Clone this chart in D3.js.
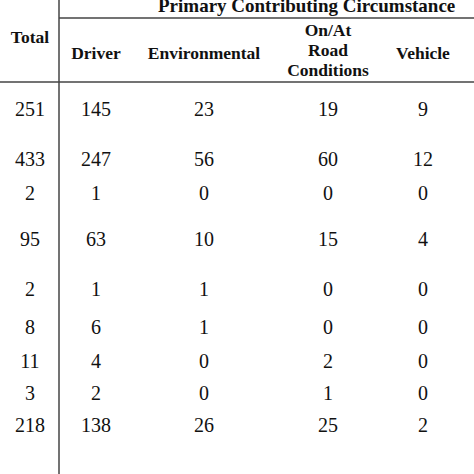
<!DOCTYPE html><html><head><meta charset="utf-8"><script src="https://d3js.org/d3.v7.min.js"></script>
<style>body{margin:0;background:#fff}</style></head><body><svg width="474" height="474"></svg><script>
const columns=["Total","Driver","Environmental","On/At\nRoad\nConditions","Vehicle"];
const total=[251,433,2,95,2,8,11,3,218];
const driver=[145,247,1,63,1,6,4,2,138];
const environmental=[23,56,0,10,1,1,0,0,26];
const road=[19,60,0,15,0,0,2,1,25];
const vehicle=[9,12,0,4,0,0,0,0,2];
const rowY=[109,159,193,239,289,327,361,393,425];
const colX=[30,96,204,328,423];
const svg=d3.select("svg"),f="'Liberation Serif','Times New Roman',serif";
const g=svg.append("g").attr("font-family",f).attr("fill","#111");
svg.append("line").attr("x1",59).attr("x2",59).attr("y1",0).attr("y2",474).attr("stroke","#444").attr("stroke-width",1.5);
svg.append("line").attr("x1",59).attr("x2",474).attr("y1",18).attr("y2",18).attr("stroke","#444").attr("stroke-width",1.5);
svg.append("line").attr("x1",0).attr("x2",474).attr("y1",82).attr("y2",82).attr("stroke","#444").attr("stroke-width",1.5);
g.append("text").attr("x",158).attr("y",12).attr("font-weight","bold").attr("font-size",19).text("Primary Contributing Circumstance");
columns.forEach((c,i)=>{const lines=c.split("\n");const y0=i==0?43:(lines.length>1?36:59);
lines.forEach((l,j)=>g.append("text").attr("x",colX[i]).attr("y",y0+j*20).attr("text-anchor","middle").attr("font-weight","bold").attr("font-size",17.5).text(l));});
[total,driver,environmental,road,vehicle].forEach((arr,i)=>arr.forEach((v,r)=>g.append("text").attr("x",colX[i]).attr("y",rowY[r]+7).attr("text-anchor","middle").attr("font-size",20).text(v)));
</script></body></html>
